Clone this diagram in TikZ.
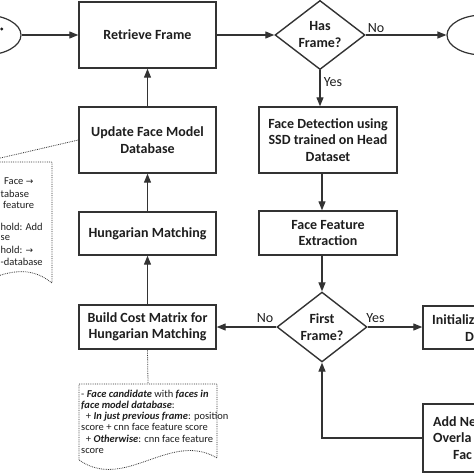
\documentclass[tikz,border=0pt]{standalone}
\usepackage{fontspec}
\setmainfont{Carlito}
\newfontfamily\symfont{DejaVu Sans}
\usetikzlibrary{shapes.geometric,arrows.meta}
\definecolor{linec}{HTML}{333333}
\definecolor{txtc}{HTML}{1E1E1E}
\begin{document}
\begin{tikzpicture}[x=1pt,y=-1pt,
  box/.style={draw=linec, line width=1.4pt, fill=white, minimum width=137pt, inner sep=0pt, align=center, font=\fontsize{14}{16.5}\selectfont\bfseries, text=txtc},
  dec/.style={draw=linec, line width=1.4pt, diamond, minimum width=90pt, minimum height=66pt, inner sep=0pt, align=center, font=\fontsize{14}{17}\selectfont\bfseries, text=txtc},
  term/.style={draw=linec, line width=1.2pt, ellipse, minimum width=72pt, minimum height=40pt, inner sep=0pt},
  arr/.style={draw=linec, line width=1.2pt, -{Triangle[length=9pt,width=7pt]}},
  lbl/.style={font=\fontsize{14}{15}\selectfont, text=txtc, inner sep=0pt},
  frag/.style={font=\fontsize{14}{15}\selectfont\bfseries, text=txtc, inner sep=0pt, anchor=west},
  notebd/.style={draw=linec, line width=0.8pt, densely dotted},
  notetxt/.style={font=\fontsize{10.5}{11.3}\selectfont, text=txtc, inner sep=0pt},
  lfrag/.style={notetxt, anchor=west}]
\clip (0,0) rectangle (474,474);
\fill[white] (0,0) rectangle (474,474);
% terminals
\node[term] (start) at (-15,35) {};
\fill[txtc] (1.7,29) circle (1.6pt);
\node[term] (stop) at (483,35) {};
% left column
\node[box, minimum height=66pt] (retr) at (147.5,35) {Retrieve Frame};
\node[box, minimum height=66pt] (upd) at (147.5,140) {Update Face Model\\Database};
\node[box, minimum height=43pt] (hung) at (147.5,233.5) {Hungarian Matching};
\node[box, minimum height=44pt] (cost) at (147.5,327) {Build Cost Matrix for\\Hungarian Matching};
% middle column
\node[dec] (has) at (320,35) {Has\\Frame?};
\node[box, minimum width=138pt, minimum height=66pt] (det) at (328,140) {Face Detection using\\SSD trained on Head\\Dataset};
\node[box, minimum width=138pt, minimum height=44pt] (feat) at (328,233) {Face Feature\\Extraction};
\node[dec] (first) at (322,327) {First\\Frame?};
% right column (cropped)
\node[box, minimum height=43pt] (init) at (491.5,327.5) {};
\node[frag] at (432,320) {Initializ};
\node[frag] at (465,337) {D};
\node[box, minimum height=68pt] (addn) at (491.5,438) {};
\node[frag] at (433,422) {Add Ne};
\node[frag] at (433,438) {Overla};
\node[frag] at (453,455) {Fac};
% connectors
\draw[arr] (start.east |- retr.west) -- (retr.west);
\draw[arr] (retr.east) -- (has.west);
\draw[arr] (has.east) -- (stop.west);
\node[lbl] at (376,28) {No};
\draw[arr] (has.south) -- (has.south |- det.north);
\node[lbl] at (333,82) {Yes};
\draw[arr] (first.north |- det.south) -- (first.north |- feat.north);
\draw[arr] (first.north |- feat.south) -- (first.north);
\draw[arr] (first.west) -- (cost.east);
\node[lbl] at (265,318) {No};
\draw[arr] (first.east) -- (first.east -| init.west);
\node[lbl] at (375.5,318) {Yes};
\draw[arr] (addn.west) -| (first.south);
\draw[arr] (cost.north) -- (hung.south);
\draw[arr] (hung.north) -- (upd.south);
\draw[arr] (upd.north) -- (retr.south);
% bottom note
\coordinate (bnote) at (148,384);
\draw[notebd] (cost.south) -- (bnote);
\draw[notebd, fill=white] (79,384) -- (217,384) -- (217,458) .. controls (170,430) and (125,492) .. (79,460) -- cycle;
\node[notetxt, anchor=north west, align=left] at (81,389.5) {- \textbf{\textit{Face candidate}} with \textbf{\textit{faces in}}\\
\textbf{\textit{face model database}}:\\
\ \ + \textbf{\textit{In just previous frame}}: position\\
score + cnn face feature score\\
\ \ + \textbf{\textit{Otherwise}}: cnn face feature\\
score};
% left note
\coordinate (lnote) at (-17,162);
\draw[notebd] (upd.west) -- (lnote);
\draw[notebd, fill=white] (-86,162) -- (52,162) -- (52,283) .. controls (5,245) and (-40,317) .. (-86,285) -- cycle;
\node[lfrag] at (4,181) {Face {\symfont\fontsize{9}{10}\selectfont →}};
\node[lfrag] at (0.5,194) {tabase};
\node[lfrag] at (3,205) {feature};
\node[lfrag] at (0.5,227) {hold: Add};
\node[lfrag] at (0.5,238) {se};
\node[lfrag] at (0.5,250) {hold: {\symfont\fontsize{9}{10}\selectfont →}};
\node[lfrag] at (0.5,262) {-database};
\end{tikzpicture}
\end{document}
